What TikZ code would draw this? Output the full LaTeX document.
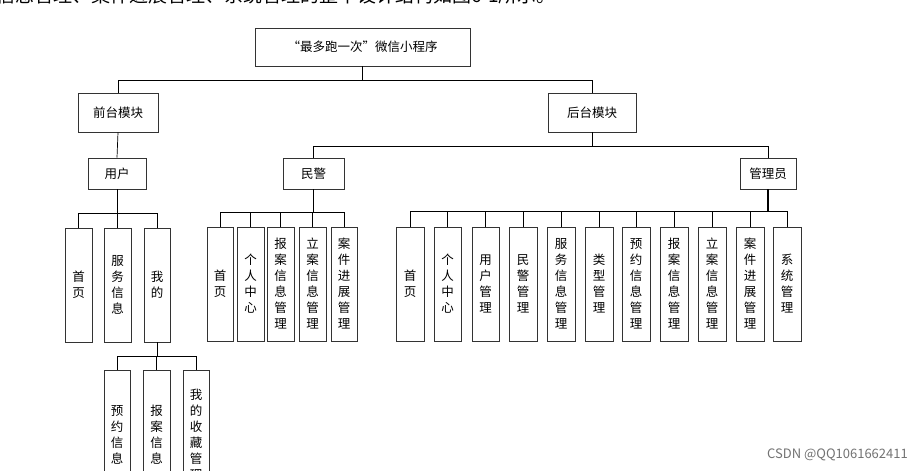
\documentclass[tikz,border=0pt]{standalone}
\usepackage{fontspec}
\setmainfont{Noto Sans CJK SC}
\begin{document}
\begin{tikzpicture}[x=1pt,y=-1pt,
  bx/.style={draw=black!80,line width=0.8pt,inner sep=0pt,font=\fontsize{12.5}{16}\selectfont,align=center},
  ln/.style={draw=black,line width=0.7pt}]
\useasboundingbox[fill=white] (0,0) rectangle (922,471);
\node[anchor=north west,inner sep=0pt,font=\fontsize{19}{22}\selectfont] (cap) at (-4,-14) {信息管理、案件进展管理、系统管理的整个设计结构如图6-1所示。};
\newcommand{\bb}[6]{\node[bx,minimum width=#3-#2,minimum height=#5-#4] (#1) at ({(#2+#3)/2},{(#4+#5)/2}) {#6};}
\bb{root}{255}{470}{28}{66}{“最多跑一次”微信小程序}
\bb{qt}{78}{158}{93}{132}{前台模块}
\bb{ht}{548}{636}{93}{132}{后台模块}
\bb{yh}{88}{146}{158}{189}{用户}
\bb{mj}{283}{344}{158}{189}{民警}
\bb{gly}{740}{796}{158}{189}{管理员}
\bb{u1}{65}{92}{228}{342}{首\\页}
\bb{u2}{104}{131}{228}{342}{服\\务\\信\\息}
\bb{u3}{144}{170}{228}{342}{我\\的}
\bb{w1}{104}{130}{370}{500}{预\\约\\信\\息}
\bb{w2}{143}{170}{370}{500}{报\\案\\信\\息}
\bb{w3}{183}{209}{370}{500}{我\\的\\收\\藏\\管\\理}
\bb{p1}{207}{233}{227}{341}{首\\页}
\bb{p2}{237}{264}{227}{341}{个\\人\\中\\心}
\bb{p3}{267}{294}{227}{341}{报\\案\\信\\息\\管\\理}
\bb{p4}{299}{326}{227}{341}{立\\案\\信\\息\\管\\理}
\bb{p5}{331}{357}{227}{341}{案\\件\\进\\展\\管\\理}
\bb{a1}{396}{424}{227}{341}{首\\页}
\bb{a2}{434}{461}{227}{341}{个\\人\\中\\心}
\bb{a3}{472}{499}{227}{341}{用\\户\\管\\理}
\bb{a4}{509}{537}{227}{341}{民\\警\\管\\理}
\bb{a5}{547}{575}{227}{341}{服\\务\\信\\息\\管\\理}
\bb{a6}{585}{613}{227}{341}{类\\型\\管\\理}
\bb{a7}{622}{650}{227}{341}{预\\约\\信\\息\\管\\理}
\bb{a8}{660}{688}{227}{341}{报\\案\\信\\息\\管\\理}
\bb{a9}{698}{726}{227}{341}{立\\案\\信\\息\\管\\理}
\bb{a10}{736}{764}{227}{341}{案\\件\\进\\展\\管\\理}
\bb{a11}{773}{801}{227}{341}{系\\统\\管\\理}
\draw[ln] (root.south) -- ++(0,14) -| (qt.north);
\draw[ln] (root.south) ++(0,14) -| (ht.north);
\draw[ln] (qt.south) -- (yh.north);
\draw[ln] (ht.south) -- ++(0,14) -| (mj.north);
\draw[ln] (ht.south) ++(0,14) -| (gly.north);
\draw[ln] (yh.south) -- ++(0,24) -| (u1.north);
\draw[ln] (yh.south) ++(0,24) -| (u2.north);
\draw[ln] (yh.south) ++(0,24) -| (u3.north);
\draw[ln] (u3.south) -- ++(0,14) -| (w1.north);
\draw[ln] (u3.south) ++(0,14) -| (w2.north);
\draw[ln] (u3.south) ++(0,14) -| (w3.north);
\draw[ln] (mj.south) -- ++(0,23) -| (p1.north);
\foreach \n in {p2,p3,p4,p5}{\draw[ln] (mj.south) ++(0,23) -| (\n.north);}
\draw[ln,line width=1.2pt] (gly.south) -- ++(0,22);
\foreach \n in {a1,a2,a3,a4,a5,a6,a7,a8,a9,a10,a11}{\draw[ln] (gly.south) ++(0,22) -| (\n.north);}
\node[anchor=south east,inner sep=0pt,text=black!55,font=\fontsize{13}{15}\selectfont] (wm) at (908,461) {CSDN @QQ1061662411};
\end{tikzpicture}
\end{document}
